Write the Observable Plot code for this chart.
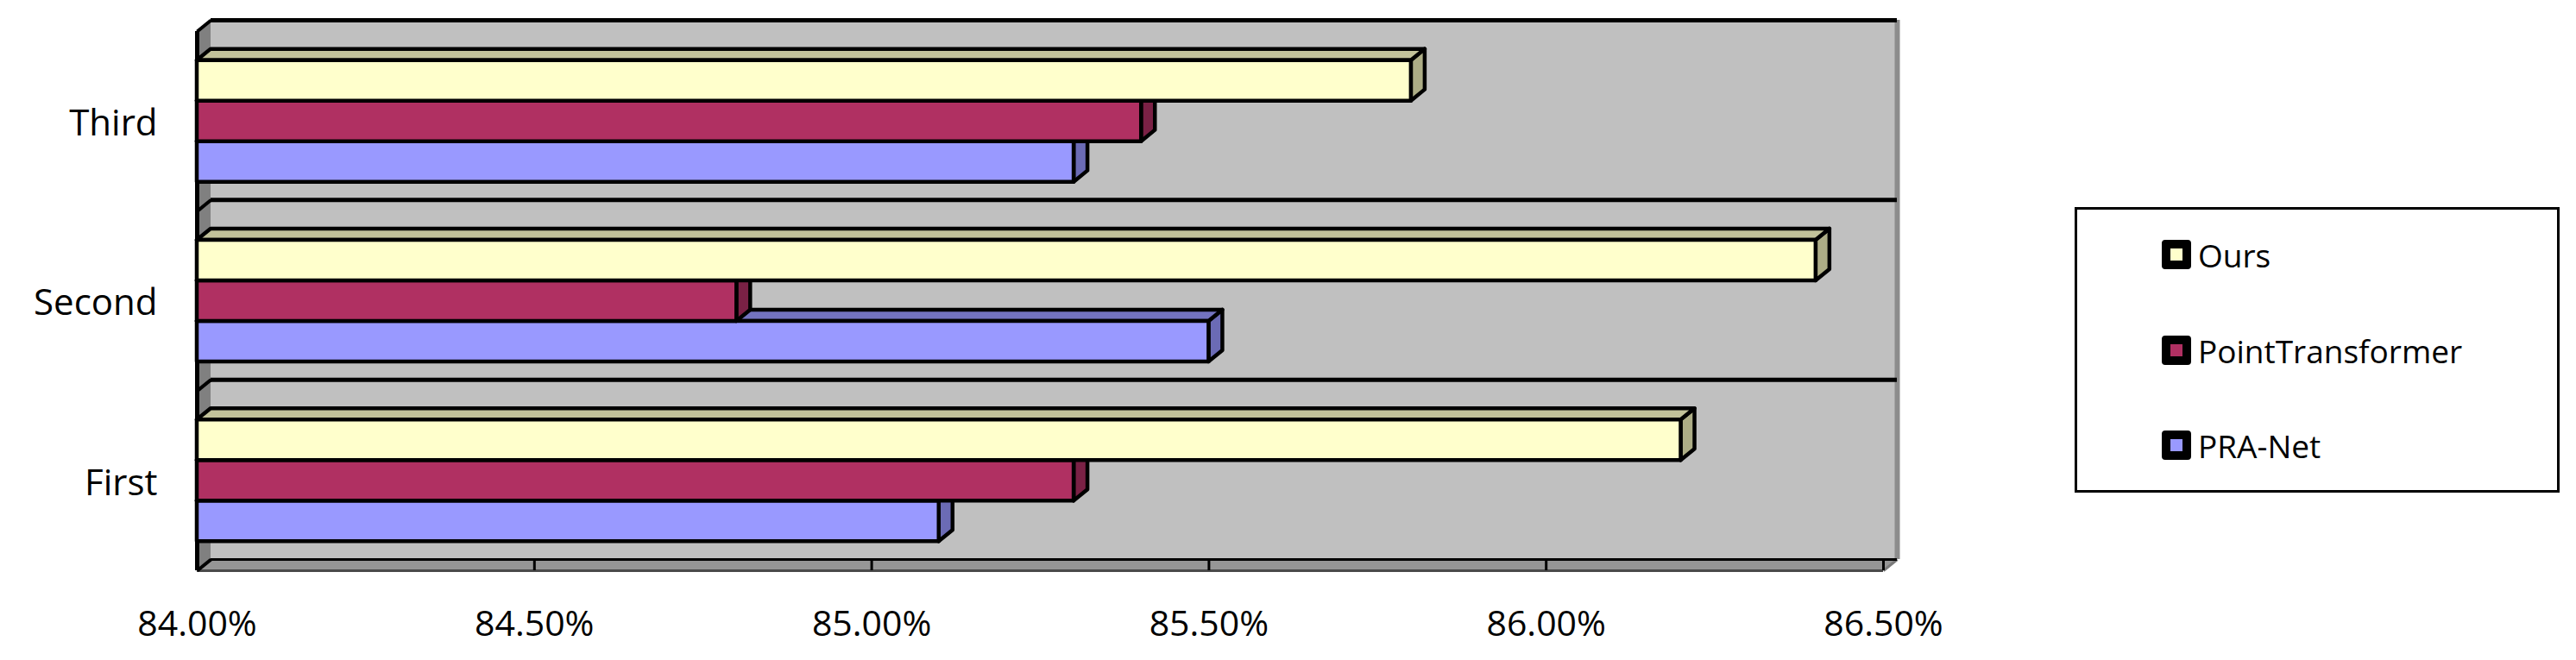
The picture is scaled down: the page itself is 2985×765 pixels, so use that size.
<!DOCTYPE html>
<html>
<head>
<meta charset="utf-8">
<script src="https://cdn.jsdelivr.net/npm/d3@7"></script>
<script src="https://cdn.jsdelivr.net/npm/@observablehq/plot@0.6"></script>
<style>
  html, body { margin: 0; padding: 0; background: #fff; }
  body { width: 2985px; height: 765px; position: relative; overflow: hidden; font-family: "Open Sans", Lato, sans-serif; }
  #chart svg { display: block; }
  #legend { position: absolute; left: 2404px; top: 240px; width: 556px; height: 325px; border: 3px solid #000; background: #fff; }
  .item { position: absolute; left: 98px; height: 50px; display: flex; align-items: center; }
  .sw { width: 14px; height: 14px; border: 10px solid #000; border-radius: 4px; box-sizing: content-box; }
  .lbl { margin-left: 8px; font-size: 37px; color: #000; line-height: 1; }
</style>
</head>
<body>
<div id="chart"></div>
<div id="legend"></div>
<script>
// ---- data ----
const categories = ["First", "Second", "Third"];           // bottom to top
const seriesNames = ["Ours", "PointTransformer", "PRA-Net"]; // top to bottom inside a group
const oursValues = [86.2, 86.4, 85.8];
const pointTransformerValues = [85.3, 84.8, 85.4];
const praNetValues = [85.1, 85.5, 85.3];
const xTicks = [84, 84.5, 85, 85.5, 86, 86.5];
const xTickLabels = ["84.00%", "84.50%", "85.00%", "85.50%", "86.00%", "86.50%"];

// ---- styles ----
const frontColors = ["#ffffcc", "#b03062", "#9999ff"];
const topColors = ["#c2c29a", "#7e2447", "#7373bf"];
const sideColors = ["#adad86", "#7a2145", "#6b6bb5"];

const seriesValues = [oursValues, pointTransformerValues, praNetValues];
const X0 = 84, X1 = 86.5;
const dX = 0.0205, dY = 0.0625;     // 3-D depth in data units
const PAD = 0.1615, H = 0.2256;     // band layout in data units

const rows = categories.flatMap((c, k) => seriesValues.map((vals, j) => ({
  id: c + "|" + seriesNames[j], category: c, series: seriesNames[j], j,
  value: vals[k],
  top: k + 1 - PAD - j * H,
  bottom: k + 1 - PAD - (j + 1) * H
})));
const topPts = rows.flatMap(r => [
  {id: r.id, j: r.j, y: r.top, x1: X0, x2: r.value},
  {id: r.id, j: r.j, y: r.top + dY, x1: X0 + dX, x2: r.value + dX}
]);
const sidePts = rows.flatMap(r => [
  {id: r.id, j: r.j, x: r.value, y1: r.bottom, y2: r.top},
  {id: r.id, j: r.j, x: r.value + dX, y1: r.bottom + dY, y2: r.top + dY}
]);

const barMarks = [];
for (const j of [2, 1, 0]) {
  barMarks.push(
    Plot.areaY(sidePts.filter(d => d.j === j), {x: "x", y1: "y1", y2: "y2", z: "id", fill: sideColors[j], stroke: "#000", strokeWidth: 4.5, strokeLinejoin: "round"}),
    Plot.areaX(topPts.filter(d => d.j === j), {y: "y", x1: "x1", x2: "x2", z: "id", fill: topColors[j], stroke: "#000", strokeWidth: 4.5, strokeLinejoin: "round"}),
    Plot.rect(rows.filter(d => d.j === j), {x1: X0, x2: "value", y1: "bottom", y2: "top", fill: frontColors[j], stroke: "#000", strokeWidth: 4.5, strokeLinejoin: "round"})
  );
}

const chart = Plot.plot({
  width: 2300, height: 765,
  marginLeft: 228, marginRight: 118, marginTop: 36, marginBottom: 104,
  x: {domain: [X0, X1], axis: null},
  y: {domain: [0, 3], axis: null},
  style: {fontFamily: "'Open Sans', Lato, sans-serif", background: "#fff", color: "#000"},
  marks: [
    // back wall
    Plot.rect([0], {x1: X0 + dX, x2: X1 + dX, y1: dY, y2: 3 + dY, fill: "#c0c0c0"}),
    // right edge of wall
    Plot.ruleX([X1 + dX], {y1: dY, y2: 3 + dY, stroke: "#8c8c8c", strokeWidth: 6}),
    // left wall
    Plot.areaY([{x: X0, y1: 0, y2: 3}, {x: X0 + dX, y1: dY, y2: 3 + dY}], {x: "x", y1: "y1", y2: "y2", fill: "#808080"}),
    // floor
    Plot.areaX([{y: 0, x1: X0, x2: X1}, {y: dY, x1: X0 + dX, x2: X1 + dX}], {y: "y", x1: "x1", x2: "x2", fill: "#969696"}),
    Plot.ruleY([0], {x1: X0, x2: X1, stroke: "#4a4a4a", strokeWidth: 3}),
    Plot.link([0], {x1: X1, y1: 0, x2: X1 + dX, y2: dY, stroke: "#7a7a7a", strokeWidth: 3}),
    // gridlines on the back wall
    Plot.ruleY([1, 2, 3], {y: d => d + dY, x1: X0 + dX, x2: X1 + dX, stroke: "#000", strokeWidth: 5}),
    Plot.ruleY([0], {y: d => d + dY, x1: X0 + dX, x2: X1 + dX, stroke: "#000", strokeWidth: 3}),
    // ticks on the floor
    Plot.ruleX(xTicks, {x: d => d, y1: 0, y2: dY, stroke: "#000", strokeWidth: 3}),
    // left frame edge and bevels
    Plot.ruleX([X0], {y1: 0, y2: 3, stroke: "#000", strokeWidth: 5}),
    Plot.link([0, 1, 2, 3], {x1: X0, y1: d => d, x2: X0 + dX, y2: d => d + dY, stroke: "#000", strokeWidth: 4}),
    // bars
    ...barMarks,
    // tick labels
    Plot.text(xTicks, {x: d => d, y: 0, text: (d, i) => xTickLabels[i], dy: 62, fontSize: 41, lineAnchor: "middle", fill: "#000"}),
    Plot.text(categories, {x: X0, y: (d, k) => k + 0.5, text: d => d, textAnchor: "end", dx: -46, dy: 3, fontSize: 42, lineAnchor: "middle", fill: "#000"})
  ]
});
document.getElementById("chart").appendChild(chart);

// legend
const legend = document.getElementById("legend");
const centers = [52, 163, 273];
seriesNames.forEach((name, j) => {
  const item = document.createElement("div");
  item.className = "item";
  item.style.top = (centers[j] - 25) + "px";
  const sw = document.createElement("div");
  sw.className = "sw";
  sw.style.background = frontColors[j];
  const lbl = document.createElement("span");
  lbl.className = "lbl";
  lbl.textContent = name;
  item.appendChild(sw);
  item.appendChild(lbl);
  legend.appendChild(item);
});
</script>
</body>
</html>
